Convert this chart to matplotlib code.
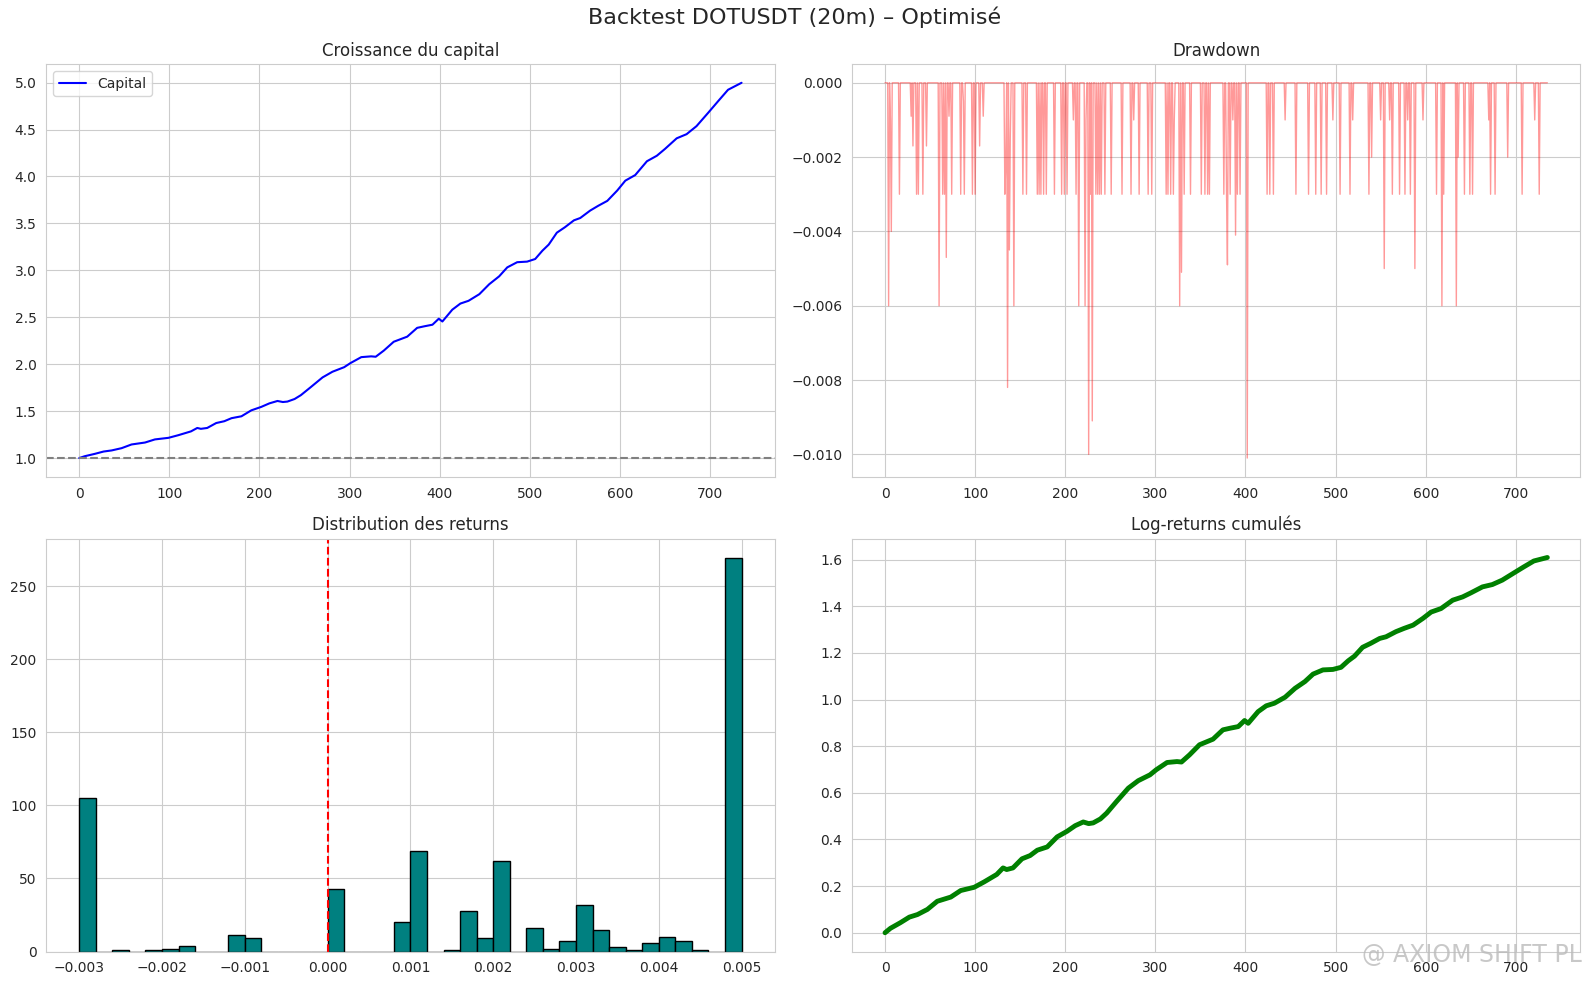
import numpy as np
import matplotlib
matplotlib.use("Agg")
import matplotlib.pyplot as plt
import seaborn as sns

sns.set_style("whitegrid")
plt.rcParams['font.family'] = ['DejaVu Sans']

# cumulative log-returns (index, value)
log_idx = [0, 6, 17, 27, 36, 47, 58, 73, 84, 99, 110, 124, 131, 135, 142, 152, 161, 169, 180,
           191, 202, 211, 220, 226, 231, 239, 246, 257, 270, 281, 294, 301, 313, 324, 329, 338,
           349, 364, 375, 383, 392, 399, 403, 414, 423, 432, 444, 455, 466, 475, 486, 497, 506,
           514, 521, 530, 539, 549, 556, 567, 576, 586, 597, 606, 617, 630, 641, 650, 663, 674,
           685, 698, 709, 720, 735]
log_val = [0.0, 0.019, 0.043, 0.067, 0.078, 0.100, 0.135, 0.153, 0.181, 0.195, 0.218, 0.250,
           0.278, 0.271, 0.278, 0.317, 0.331, 0.354, 0.368, 0.411, 0.435, 0.459, 0.475, 0.468,
           0.471, 0.488, 0.513, 0.563, 0.620, 0.652, 0.677, 0.699, 0.730, 0.734, 0.732, 0.763,
           0.806, 0.830, 0.870, 0.877, 0.884, 0.910, 0.898, 0.948, 0.973, 0.984, 1.010, 1.048,
           1.077, 1.109, 1.127, 1.129, 1.138, 1.166, 1.186, 1.224, 1.241, 1.262, 1.269, 1.291,
           1.305, 1.319, 1.348, 1.375, 1.390, 1.426, 1.440, 1.457, 1.483, 1.493, 1.512, 1.543,
           1.569, 1.594, 1.609]

# drawdown dips (index, depth); zero elsewhere
dd_idx = [4, 6, 7, 16, 29, 31, 35, 37, 42, 46, 60, 64, 66, 68, 71, 74, 84, 87, 88, 97, 100,
          105, 109, 133, 134, 136, 138, 139, 143, 153, 157, 169, 171, 173, 176, 179, 188, 196,
          199, 202, 209, 212, 215, 222, 223, 226, 228, 230, 234, 236, 238, 240, 244, 251, 263,
          273, 276, 282, 292, 296, 312, 314, 317, 320, 321, 327, 329, 332, 339, 351, 355, 358,
          360, 376, 379, 380, 383, 386, 389, 391, 394, 402, 424, 427, 431, 444, 456, 470, 478,
          484, 490, 497, 505, 516, 519, 537, 540, 550, 554, 560, 563, 571, 577, 580, 583, 588,
          597, 612, 618, 620, 634, 636, 643, 649, 652, 670, 672, 677, 691, 707, 721, 726]
dd_val = [-0.006, -0.001, -0.004, -0.003, -0.0009, -0.0017, -0.003, -0.003, -0.003, -0.0017,
          -0.006, -0.003, -0.003, -0.0047, -0.0009, -0.003, -0.003, -0.0005, -0.003, -0.003,
          -0.003, -0.0017, -0.0009, -0.003, -0.0022, -0.0082, -0.0045, -0.0015, -0.006, -0.003,
          -0.003, -0.003, -0.003, -0.003, -0.003, -0.003, -0.003, -0.003, -0.003, -0.003,
          -0.001, -0.003, -0.006, -0.006, -0.001, -0.010, -0.003, -0.0091, -0.003, -0.003,
          -0.003, -0.003, -0.003, -0.003, -0.003, -0.003, -0.001, -0.003, -0.003, -0.003,
          -0.003, -0.003, -0.003, -0.003, -0.001, -0.006, -0.0051, -0.003, -0.003, -0.003,
          -0.003, -0.003, -0.003, -0.003, -0.003, -0.0049, -0.003, -0.001, -0.0041, -0.003,
          -0.003, -0.0101, -0.003, -0.003, -0.003, -0.001, -0.003, -0.003, -0.003, -0.003,
          -0.003, -0.001, -0.003, -0.003, -0.001, -0.003, -0.002, -0.001, -0.005, -0.001,
          -0.003, -0.003, -0.003, -0.001, -0.003, -0.005, -0.001, -0.003, -0.006, -0.003,
          -0.006, -0.002, -0.003, -0.003, -0.003, -0.001, -0.003, -0.003, -0.002, -0.003,
          -0.001, -0.003]
n_points = 736

# histogram of returns: 40 bins between min and max return
ret_min, ret_max, n_bins = -0.003, 0.005, 40
hist_counts = [105, 0, 1, 0, 1, 2, 4, 0, 0, 11, 9, 0, 0, 0, 0, 43, 0, 0, 0, 20,
               69, 0, 1, 28, 9, 62, 0, 16, 2, 7, 32, 15, 3, 1, 6, 10, 7, 1, 0, 269]

log_idx = np.array(log_idx)
log_val = np.array(log_val)
capital = np.exp(log_val)

dd = np.zeros(n_points)
dd[dd_idx] = dd_val

edges = np.linspace(ret_min, ret_max, n_bins + 1)
centers = (edges[:-1] + edges[1:]) / 2

fig, axs = plt.subplots(2, 2, figsize=(15.9, 9.85), dpi=100)
fig.subplots_adjust(left=0.029, right=0.994, top=0.935, bottom=0.034,
                    wspace=0.106, hspace=0.150)
fig.suptitle("Backtest DOTUSDT (20m) – Optimisé", fontsize=16, y=0.993)

ax = axs[0, 0]
ax.plot(log_idx, capital, color='blue', label='Capital')
ax.axhline(1.0, color='grey', linestyle='--')
ax.set_title("Croissance du capital")
ax.legend(loc='upper left')

ax = axs[0, 1]
ax.plot(np.arange(n_points), dd, color='red', alpha=0.4, lw=1)
ax.set_title("Drawdown")

ax = axs[1, 0]
ax.hist(centers, bins=edges, weights=hist_counts, color='teal', edgecolor='black')
ax.axvline(0, color='red', linestyle='--')
ax.set_title("Distribution des returns")

ax = axs[1, 1]
ax.plot(log_idx, log_val, color='green', lw=3.5)
ax.set_title("Log-returns cumulés")

# faint platform watermark in the bottom-right corner, as in the source image
fig.text(0.995, 0.030, "@ AXIOM SHIFT PL", fontsize=17, color='#bbbbbb', alpha=0.8,
         ha='right', va='center')
plt.savefig("out.png")
